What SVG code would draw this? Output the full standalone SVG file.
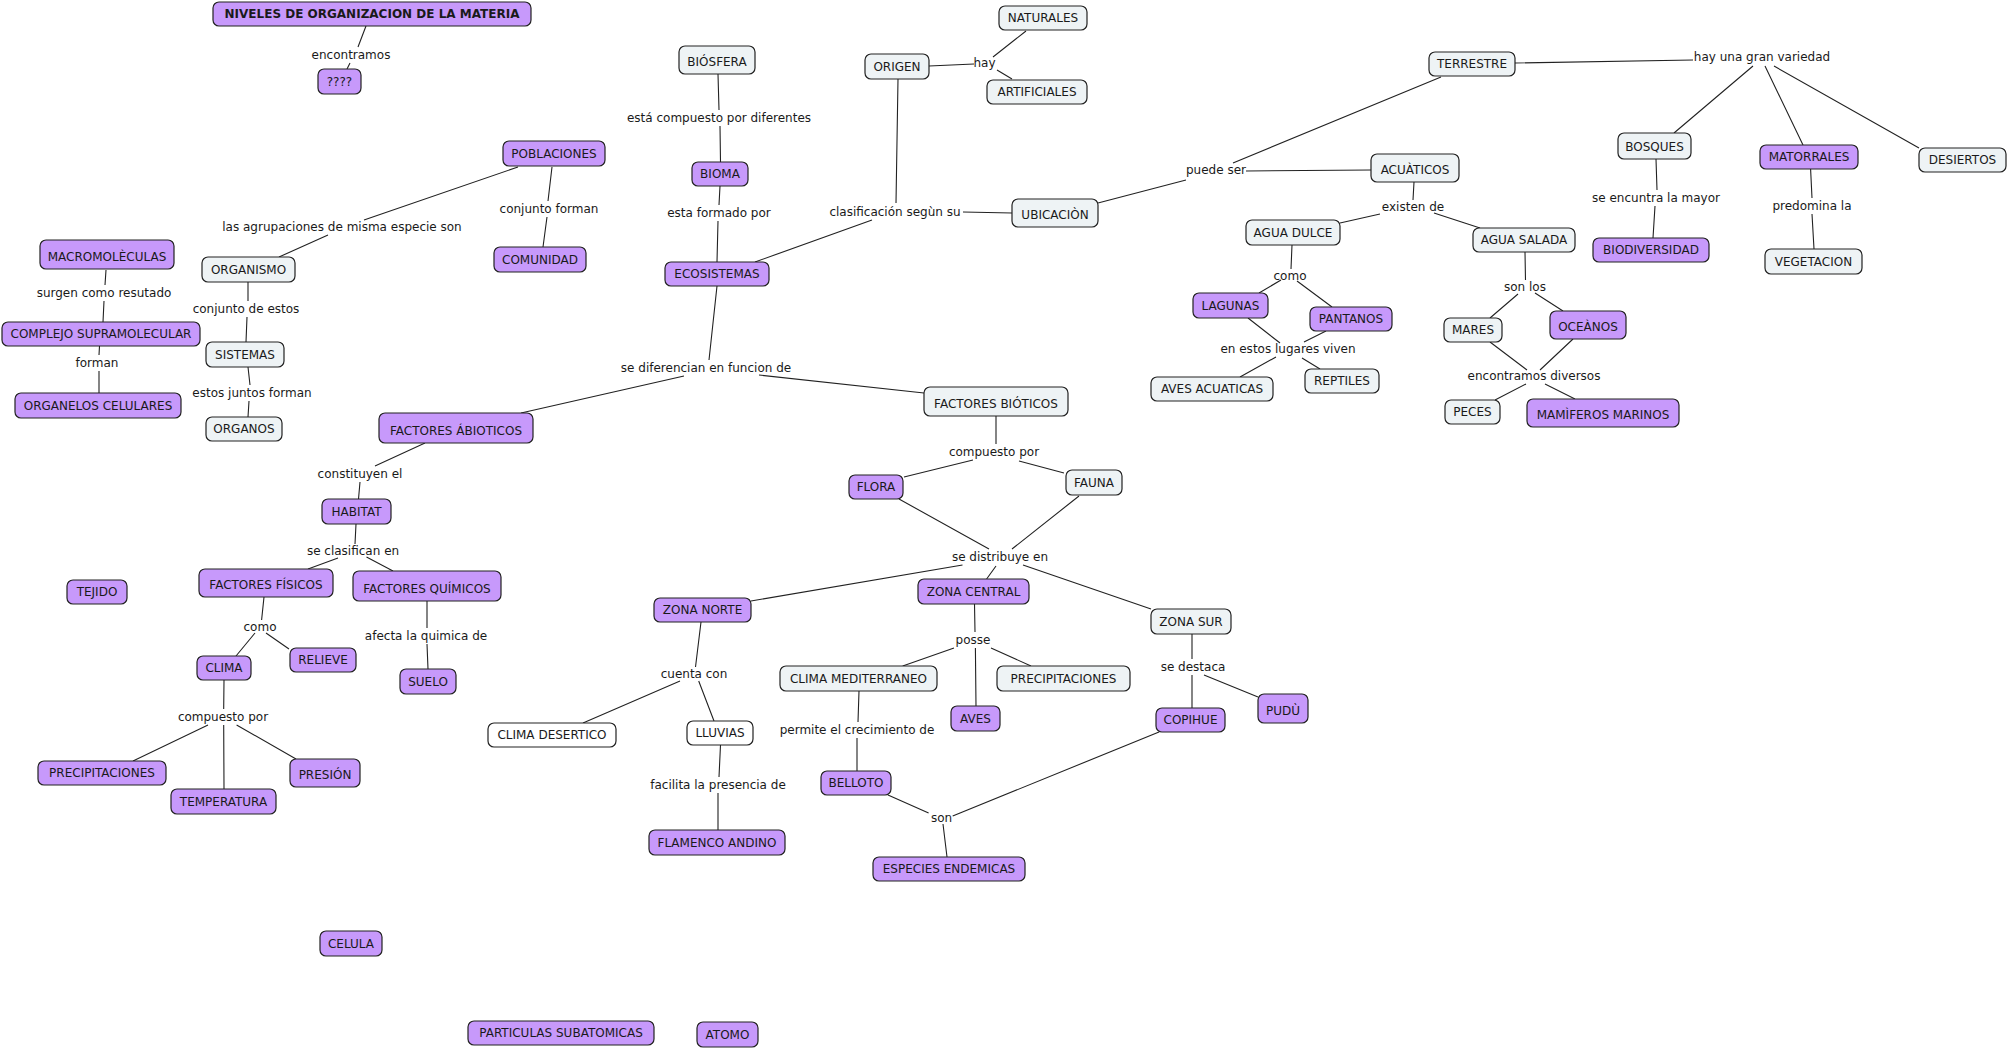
<svg xmlns="http://www.w3.org/2000/svg" width="2008" height="1049" viewBox="0 0 2008 1049">
<style>
.n rect{stroke:#222;stroke-width:1.2}
.p rect{fill:#c799fb}
.l rect{fill:#eef3f5}
.w rect{fill:#ffffff}
text{font-family:"DejaVu Sans","Verdana",sans-serif;font-size:12px;fill:#1a1a1a;text-anchor:middle}
.b text{font-weight:bold}
#connectors path{stroke:#222;stroke-width:1.1;fill:none}
</style>
<rect width="2008" height="1049" fill="#ffffff"/>
<g id="connectors">
<path d="M366,26L358,47M350,63L347,69"/>
<path d="M518,167L364,220M328,235L279,257"/>
<path d="M552,167L548,201M547,217L543,247"/>
<path d="M106,270L105,285M104,301L103,322"/>
<path d="M99.5,346L99,355M99,371L99,393"/>
<path d="M248,282L248,301M247,317L246,342"/>
<path d="M248,367L250,385M249,401L248,417"/>
<path d="M718,74L719,110M720,126L720.5,162"/>
<path d="M720,186L719,205M718,221L717,262"/>
<path d="M898,79L896,203M872,220L755,262M963,212L1012,213"/>
<path d="M929,66L974,64M993,57L1026,31M997,70L1012,79"/>
<path d="M1098,203L1186,180M1233,163L1441,77M1246,171L1371,170"/>
<path d="M717,286L709,360M684,376L521,413M759,375L924,393"/>
<path d="M1515,63L1693,60M1753,66L1674,133M1765,66L1803,145M1774,66L1919,148"/>
<path d="M1656,159L1657,190M1655,206L1653,238"/>
<path d="M1810.6,169L1812,198M1812,214L1814,249"/>
<path d="M1414,182L1413,200M1380,214L1340,223M1434,213L1480,228"/>
<path d="M1292,245L1291,269M1281,280L1259,293M1297,281L1332,307"/>
<path d="M1248,318L1280,343M1326,331L1304,342M1276,357L1240,377M1302,358L1320,369"/>
<path d="M1525,252L1525.5,280M1518,294L1490,318M1535,293L1563,311"/>
<path d="M1490,342L1527,370M1573,339L1540,370M1526,384L1495,400M1545,384L1575,399"/>
<path d="M425,443L375,466M360,482L358.5,499"/>
<path d="M356,524L355,544M338,558L308,569M366.5,557L393,571"/>
<path d="M264,597L261.6,620M255,633L236,656M266,633L289,649"/>
<path d="M427,601L427,628M427,644L428,669"/>
<path d="M224,680L223.7,709M208,725L133,761M223.7,725L224,789M236.6,725L296,759"/>
<path d="M996,416L996,444M973,460L904,477M1019,461L1064,473"/>
<path d="M899,499L989,549M1079,496L1012,549M962.5,565L751,601M996,566L986.6,579M1023,565L1151,609"/>
<path d="M701,622L695.5,667M680,681L583,723M698.7,681L714,721"/>
<path d="M974.5,604L975,632M954,648L902.7,666M975.4,648L976,706M991,648L1031,666"/>
<path d="M1192,634L1192,659M1192,675L1192,708M1204,675L1258,697"/>
<path d="M859,691L858,722M857,738L857,771"/>
<path d="M720.5,745L719,777M718,793L718,830"/>
<path d="M888,795L928.6,813M1159,732L952.7,816M943,824L947,857"/>
</g>
<g id="labels">
<text x="351" y="59">encontramos</text>
<text x="342" y="231">las agrupaciones de misma especie son</text>
<text x="549" y="213">conjunto forman</text>
<text x="104" y="297">surgen como resutado</text>
<text x="97" y="367">forman</text>
<text x="246" y="313">conjunto de estos</text>
<text x="252" y="397">estos juntos forman</text>
<text x="719" y="122">está compuesto por diferentes</text>
<text x="719" y="217">esta formado por</text>
<text x="984.5" y="67">hay</text>
<text x="895" y="216">clasificación segùn su</text>
<text x="1216" y="174">puede ser</text>
<text x="706" y="372">se diferencian en funcion de</text>
<text x="1762" y="61">hay una gran variedad</text>
<text x="1413" y="211">existen de</text>
<text x="1290" y="280">como</text>
<text x="1288" y="353">en estos lugares viven</text>
<text x="1525" y="291">son los</text>
<text x="1534" y="380">encontramos diversos</text>
<text x="1656" y="202">se encuntra la mayor</text>
<text x="1812" y="210">predomina la</text>
<text x="360" y="478">constituyen el</text>
<text x="353" y="555">se clasifican en</text>
<text x="260" y="631">como</text>
<text x="426" y="640">afecta la quimica de</text>
<text x="223" y="721">compuesto por</text>
<text x="994" y="456">compuesto por</text>
<text x="1000" y="561">se distribuye en</text>
<text x="973" y="644">posse</text>
<text x="1193" y="671">se destaca</text>
<text x="694" y="678">cuenta con</text>
<text x="857" y="734">permite el crecimiento de</text>
<text x="718" y="789">facilita la presencia de</text>
<text x="941.5" y="822">son</text>
</g>
<g id="n1" class="n p b"><rect x="213" y="2" width="318" height="24" rx="6"/><text x="372" y="18">NIVELES DE ORGANIZACION DE LA MATERIA</text></g>
<g id="n2" class="n p"><rect x="318" y="69" width="43" height="25" rx="6"/><text x="339.5" y="86">????</text></g>
<g id="n3" class="n p"><rect x="503" y="141" width="102" height="25" rx="6"/><text x="554" y="158">POBLACIONES</text></g>
<g id="n4" class="n p"><rect x="494" y="247" width="92" height="25" rx="6"/><text x="540" y="264">COMUNIDAD</text></g>
<g id="n5" class="n p"><rect x="40" y="240" width="134" height="29" rx="6"/><text x="107" y="261">MACROMOLÈCULAS</text></g>
<g id="n6" class="n l"><rect x="202" y="257" width="93" height="25" rx="6"/><text x="248.5" y="274">ORGANISMO</text></g>
<g id="n7" class="n p"><rect x="2" y="322" width="198" height="24" rx="6"/><text x="101" y="338">COMPLEJO SUPRAMOLECULAR</text></g>
<g id="n8" class="n l"><rect x="206" y="342" width="78" height="25" rx="6"/><text x="245" y="359">SISTEMAS</text></g>
<g id="n9" class="n p"><rect x="15" y="393" width="166" height="25" rx="6"/><text x="98" y="410">ORGANELOS CELULARES</text></g>
<g id="n10" class="n l"><rect x="206" y="417" width="76" height="24" rx="6"/><text x="244" y="433">ORGANOS</text></g>
<g id="n11" class="n p"><rect x="379" y="413" width="154" height="30" rx="6"/><text x="456" y="435">FACTORES ÁBIOTICOS</text></g>
<g id="n12" class="n l"><rect x="679" y="46" width="76" height="28" rx="6"/><text x="717" y="66">BIÓSFERA</text></g>
<g id="n13" class="n p"><rect x="692" y="162" width="56" height="24" rx="6"/><text x="720" y="178">BIOMA</text></g>
<g id="n14" class="n p"><rect x="665" y="262" width="104" height="24" rx="6"/><text x="717" y="278">ECOSISTEMAS</text></g>
<g id="n15" class="n l"><rect x="865" y="54" width="64" height="25" rx="6"/><text x="897" y="71">ORIGEN</text></g>
<g id="n16" class="n l"><rect x="999" y="6" width="88" height="24" rx="6"/><text x="1043" y="22">NATURALES</text></g>
<g id="n17" class="n l"><rect x="987" y="80" width="100" height="24" rx="6"/><text x="1037" y="96">ARTIFICIALES</text></g>
<g id="n18" class="n l"><rect x="1012" y="199" width="86" height="28" rx="6"/><text x="1055" y="219">UBICACIÒN</text></g>
<g id="n19" class="n l"><rect x="924" y="387" width="144" height="29" rx="6"/><text x="996" y="408">FACTORES BIÓTICOS</text></g>
<g id="n20" class="n l"><rect x="1429" y="52" width="86" height="24" rx="6"/><text x="1472" y="68">TERRESTRE</text></g>
<g id="n21" class="n l"><rect x="1371" y="154" width="88" height="28" rx="6"/><text x="1415" y="174">ACUÀTICOS</text></g>
<g id="n22" class="n l"><rect x="1246" y="220" width="94" height="25" rx="6"/><text x="1293" y="237">AGUA DULCE</text></g>
<g id="n23" class="n l"><rect x="1473" y="228" width="102" height="24" rx="6"/><text x="1524" y="244">AGUA SALADA</text></g>
<g id="n24" class="n p"><rect x="1193" y="293" width="75" height="25" rx="6"/><text x="1230.5" y="310">LAGUNAS</text></g>
<g id="n25" class="n p"><rect x="1310" y="307" width="82" height="24" rx="6"/><text x="1351" y="323">PANTANOS</text></g>
<g id="n26" class="n l"><rect x="1151" y="377" width="122" height="24" rx="6"/><text x="1212" y="393">AVES ACUATICAS</text></g>
<g id="n27" class="n l"><rect x="1305" y="369" width="74" height="24" rx="6"/><text x="1342" y="385">REPTILES</text></g>
<g id="n28" class="n l"><rect x="1444" y="318" width="58" height="24" rx="6"/><text x="1473" y="334">MARES</text></g>
<g id="n29" class="n p"><rect x="1550" y="311" width="76" height="28" rx="6"/><text x="1588" y="331">OCEÀNOS</text></g>
<g id="n30" class="n l"><rect x="1445" y="400" width="55" height="24" rx="6"/><text x="1472.5" y="416">PECES</text></g>
<g id="n31" class="n p"><rect x="1527" y="399" width="152" height="28" rx="6"/><text x="1603" y="419">MAMÌFEROS MARINOS</text></g>
<g id="n32" class="n l"><rect x="1618" y="133" width="73" height="26" rx="6"/><text x="1654.5" y="151">BOSQUES</text></g>
<g id="n33" class="n p"><rect x="1593" y="238" width="116" height="24" rx="6"/><text x="1651" y="254">BIODIVERSIDAD</text></g>
<g id="n34" class="n p"><rect x="1760" y="145" width="98" height="24" rx="6"/><text x="1809" y="161">MATORRALES</text></g>
<g id="n35" class="n l"><rect x="1765" y="249" width="97" height="25" rx="6"/><text x="1813.5" y="266">VEGETACION</text></g>
<g id="n36" class="n l"><rect x="1919" y="148" width="87" height="24" rx="6"/><text x="1962.5" y="164">DESIERTOS</text></g>
<g id="n37" class="n p"><rect x="322" y="499" width="69" height="25" rx="6"/><text x="356.5" y="516">HABITAT</text></g>
<g id="n38" class="n p"><rect x="199" y="569" width="134" height="28" rx="6"/><text x="266" y="589">FACTORES FÍSICOS</text></g>
<g id="n39" class="n p"><rect x="353" y="571" width="148" height="30" rx="6"/><text x="427" y="593">FACTORES QUÍMICOS</text></g>
<g id="n40" class="n p"><rect x="67" y="580" width="60" height="24" rx="6"/><text x="97" y="596">TEJIDO</text></g>
<g id="n41" class="n p"><rect x="197" y="656" width="54" height="24" rx="6"/><text x="224" y="672">CLIMA</text></g>
<g id="n42" class="n p"><rect x="290" y="648" width="66" height="24" rx="6"/><text x="323" y="664">RELIEVE</text></g>
<g id="n43" class="n p"><rect x="400" y="669" width="56" height="25" rx="6"/><text x="428" y="686">SUELO</text></g>
<g id="n44" class="n p"><rect x="38" y="761" width="128" height="24" rx="6"/><text x="102" y="777">PRECIPITACIONES</text></g>
<g id="n45" class="n p"><rect x="290" y="759" width="70" height="28" rx="6"/><text x="325" y="779">PRESIÓN</text></g>
<g id="n46" class="n p"><rect x="171" y="789" width="105" height="25" rx="6"/><text x="223.5" y="806">TEMPERATURA</text></g>
<g id="n47" class="n w"><rect x="488" y="723" width="128" height="24" rx="6"/><text x="552" y="739">CLIMA DESERTICO</text></g>
<g id="n48" class="n p"><rect x="849" y="475" width="54" height="24" rx="6"/><text x="876" y="491">FLORA</text></g>
<g id="n49" class="n l"><rect x="1066" y="470" width="56" height="25" rx="6"/><text x="1094" y="487">FAUNA</text></g>
<g id="n50" class="n p"><rect x="918" y="579" width="111" height="25" rx="6"/><text x="973.5" y="596">ZONA CENTRAL</text></g>
<g id="n51" class="n p"><rect x="654" y="598" width="97" height="24" rx="6"/><text x="702.5" y="614">ZONA NORTE</text></g>
<g id="n52" class="n l"><rect x="1151" y="609" width="80" height="25" rx="6"/><text x="1191" y="626">ZONA SUR</text></g>
<g id="n53" class="n l"><rect x="780" y="666" width="157" height="25" rx="6"/><text x="858.5" y="683">CLIMA MEDITERRANEO</text></g>
<g id="n54" class="n l"><rect x="997" y="666" width="133" height="25" rx="6"/><text x="1063.5" y="683">PRECIPITACIONES</text></g>
<g id="n55" class="n p"><rect x="951" y="706" width="49" height="25" rx="6"/><text x="975.5" y="723">AVES</text></g>
<g id="n56" class="n p"><rect x="1258" y="694" width="50" height="29" rx="6"/><text x="1283" y="715">PUDÙ</text></g>
<g id="n57" class="n p"><rect x="1156" y="708" width="69" height="24" rx="6"/><text x="1190.5" y="724">COPIHUE</text></g>
<g id="n58" class="n w"><rect x="687" y="721" width="66" height="24" rx="6"/><text x="720" y="737">LLUVIAS</text></g>
<g id="n59" class="n p"><rect x="821" y="771" width="70" height="24" rx="6"/><text x="856" y="787">BELLOTO</text></g>
<g id="n60" class="n p"><rect x="649" y="830" width="136" height="25" rx="6"/><text x="717" y="847">FLAMENCO ANDINO</text></g>
<g id="n61" class="n p"><rect x="873" y="857" width="152" height="24" rx="6"/><text x="949" y="873">ESPECIES ENDEMICAS</text></g>
<g id="n62" class="n p"><rect x="320" y="931" width="62" height="25" rx="6"/><text x="351" y="948">CELULA</text></g>
<g id="n63" class="n p"><rect x="468" y="1021" width="186" height="24" rx="6"/><text x="561" y="1037">PARTICULAS SUBATOMICAS</text></g>
<g id="n64" class="n p"><rect x="697" y="1022" width="61" height="25" rx="6"/><text x="727.5" y="1039">ATOMO</text></g>
</svg>
